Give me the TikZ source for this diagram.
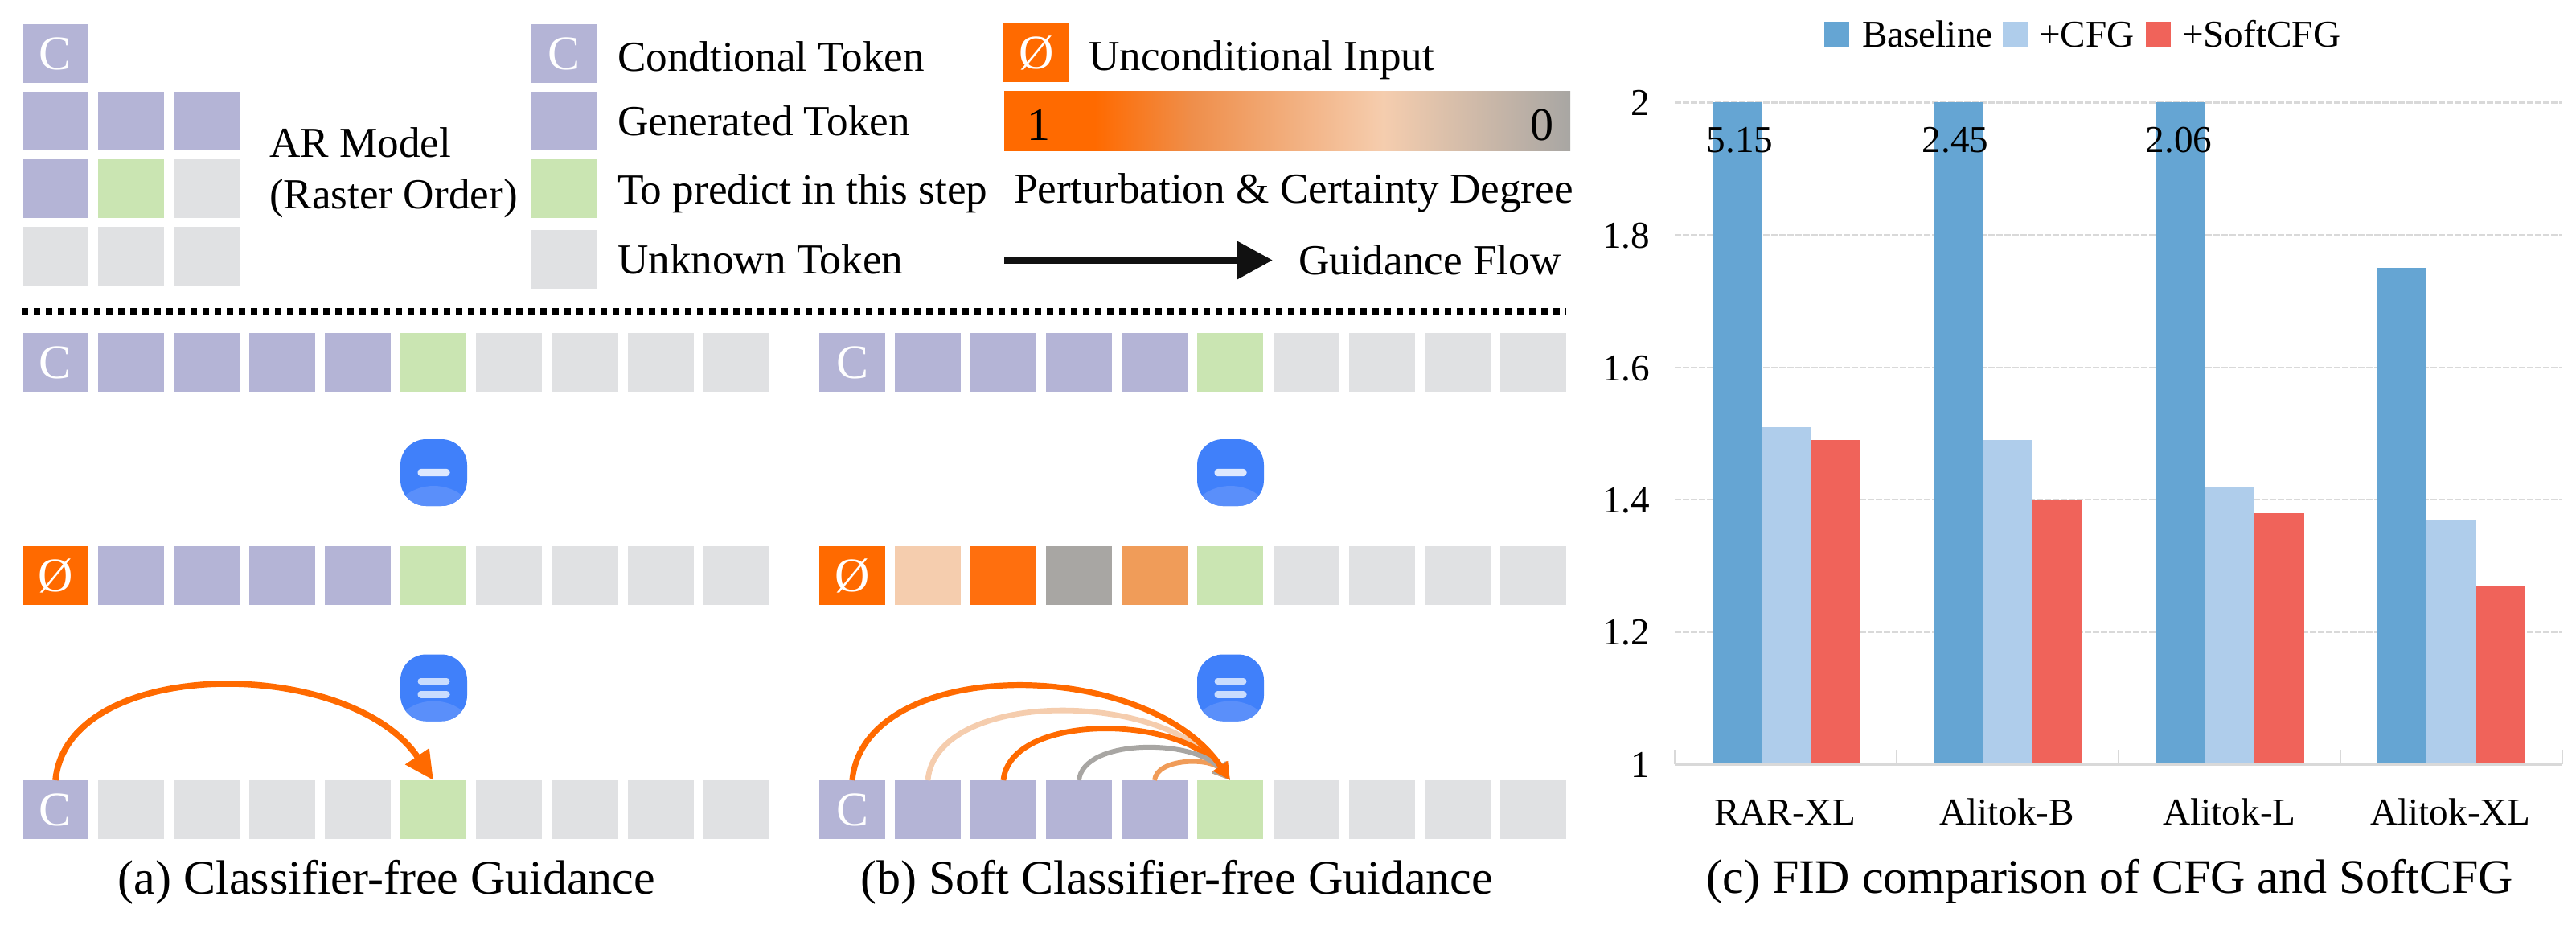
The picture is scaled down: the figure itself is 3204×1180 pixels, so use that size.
\documentclass[tikz,border=0pt]{standalone}
\usepackage{fontspec}
\setmainfont{Liberation Serif}
\usetikzlibrary{arrows.meta}
\definecolor{purp}{HTML}{B4B4D6}
\definecolor{grn}{HTML}{CAE5B2}
\definecolor{unk}{HTML}{E0E1E3}
\definecolor{org}{HTML}{FF6A00}
\definecolor{org2}{HTML}{FF6F0E}
\definecolor{org3}{HTML}{EF8E4A}
\definecolor{pch}{HTML}{F5CDAE}
\definecolor{gry}{HTML}{A8A6A3}
\definecolor{mid}{HTML}{F09C59}
\definecolor{btn}{HTML}{4080FA}
\definecolor{btnl}{HTML}{5A8FFA}
\definecolor{barA}{HTML}{65A5D3}
\definecolor{barB}{HTML}{AFCDEB}
\definecolor{barC}{HTML}{F0635A}
\definecolor{gridc}{HTML}{D9D9D9}
\definecolor{arrk}{HTML}{111111}
\pgfdeclarehorizontalshading{certshade}{100bp}{color(0bp)=(org); color(25bp)=(org); color(33bp)=(org); color(41.5bp)=(org3); color(58.5bp)=(pch); color(75bp)=(gry); color(100bp)=(gry)}
\tikzset{
  x=0.25pt,y=-0.25pt,
  cell/.style={minimum width=20.5pt,minimum height=18.25pt,inner sep=0pt,outer sep=0pt,text=white,font=\fontsize{15pt}{15pt}\selectfont},
  tokC/.style={cell,fill=purp,node contents=C},
  tokN/.style={cell,fill=org,node contents=Ø},
  tokG/.style={cell,fill=purp,node contents={}},
  tokP/.style={cell,fill=grn,node contents={}},
  tokU/.style={cell,fill=unk,node contents={}},
  tokA/.style={cell,fill=pch,node contents={}},
  tokB/.style={cell,fill=org2,node contents={}},
  tokD/.style={cell,fill=gry,node contents={}},
  tokE/.style={cell,fill=mid,node contents={}},
  txt/.style={anchor=base west,inner sep=0pt,outer sep=0pt,font=\fontsize{13.3pt}{16pt}\selectfont},
  captxt/.style={anchor=base,inner sep=0pt,outer sep=0pt,font=\fontsize{15pt}{18pt}\selectfont},
  chart/.style={inner sep=0pt,outer sep=0pt,font=\fontsize{11.8pt}{14pt}\selectfont},
  btnbase/.style={minimum width=20.75pt,minimum height=20.75pt,inner sep=0pt,outer sep=0pt,fill=btn,rounded corners=8pt},
  btnminus/.style={btnbase,path picture={
     \fill[btnl] ([yshift=-6pt]path picture bounding box.south) ellipse (13.5pt and 12.25pt);
     \fill[white!82!btn,rounded corners=1pt] ([xshift=-5pt,yshift=1.15pt]path picture bounding box.center) rectangle ([xshift=5pt,yshift=-1.15pt]path picture bounding box.center);}},
  btnequal/.style={btnbase,path picture={
     \fill[btnl] ([yshift=-6pt]path picture bounding box.south) ellipse (13.5pt and 12.25pt);
     \fill[white!72!btn,rounded corners=1pt] ([xshift=-5pt,yshift=3pt]path picture bounding box.center) rectangle ([xshift=5pt,yshift=1pt]path picture bounding box.center);
     \fill[white!72!btn,rounded corners=1pt] ([xshift=-5pt,yshift=-1pt]path picture bounding box.center) rectangle ([xshift=5pt,yshift=-3.2pt]path picture bounding box.center);}},
  flow/.style={line width=1.5pt,-{Triangle[length=5.4pt,width=5.2pt]}},
  gridl/.style={gridc,line width=0.7pt,dash pattern=on 1.9pt off 0.6pt},
  axisl/.style={gridc,line width=0.9pt},
}
\begin{document}
\begin{tikzpicture}
\useasboundingbox (0,0) rectangle (3204,1180);
% top-left AR model
\node[tokC,name=m0,at={(69,66.5)}];
\foreach \x/\s [count=\i] in {69/tokG,163/tokG,257/tokG}\node[\s,name=m1-\i,at={(\x,150.5)}];
\foreach \x/\s [count=\i] in {69/tokG,163/tokP,257/tokU}\node[\s,name=m2-\i,at={(\x,234.5)}];
\foreach \x/\s [count=\i] in {69/tokU,163/tokU,257/tokU}\node[\s,name=m3-\i,at={(\x,318.5)}];
\node[txt] (t1) at (335,195) {AR Model};
\node[txt] (t2) at (335,259) {(Raster Order)};
% legend
\node[tokC,name=l1,at={(702,66.5)}];
\node[tokG,name=l2,at={(702,150.5)}];
\node[tokP,name=l3,at={(702,234.5)}];
\node[tokU,name=l4,at={(702,322.5)}];
\node[txt] (lt1) at (768,88) {Condtional Token};
\node[txt] (lt2) at (768,168) {Generated Token};
\node[txt] (lt3) at (768,253) {To predict in this step};
\node[txt] (lt4) at (768,340) {Unknown Token};
\node[tokN,name=l5,at={(1289,65.5)}];
\node[txt] (lt5) at (1354,87) {Unconditional Input};
\node[inner sep=0pt,outer sep=0pt,minimum width=176pt,minimum height=18.5pt,shading=certshade,anchor=north west] (grad) at (1249,113) {};
\node[anchor=base,inner sep=0pt,font=\fontsize{14.5pt}{16pt}\selectfont] (g1) at (1292,174) {1};
\node[anchor=base,inner sep=0pt,font=\fontsize{14.5pt}{16pt}\selectfont] (g0) at (1918,174) {0};
\node[txt] (lt6) at (1261,252) {Perturbation \& Certainty Degree};
\coordinate (fa) at (1249,323.5);
\coordinate (fb) at (1583,323.5);
\draw[arrk,line width=2.25pt,-{Triangle[length=11pt,width=11.25pt]}] (fa) -- (fb);
\node[txt] (lt7) at (1615,341) {Guidance Flow};
% dotted rule
\coordinate (da) at (27,387);
\coordinate (db) at (1948,387);
\draw[black,line width=2pt,dash pattern=on 2pt off 1.75pt] (da) -- (db);
% panel a
\foreach \x/\s [count=\i] in {69/tokC,163/tokG,257/tokG,351/tokG,445/tokG,539/tokP,633/tokU,728/tokU,822/tokU,916/tokU}\node[\s,name=a1-\i,at={(\x,450.5)}];
\foreach \x/\s [count=\i] in {69/tokN,163/tokG,257/tokG,351/tokG,445/tokG,539/tokP,633/tokU,728/tokU,822/tokU,916/tokU}\node[\s,name=a2-\i,at={(\x,715.5)}];
\foreach \x/\s [count=\i] in {69/tokC,163/tokU,257/tokU,351/tokU,445/tokU,539/tokP,633/tokU,728/tokU,822/tokU,916/tokU}\node[\s,name=a3-\i,at={(\x,1006.5)}];
\node[btnminus] (am) at (539.5,587.5) {};
\node[btnequal] (ae) at (539.5,855) {};
\draw[org,line width=1.9pt,-{Triangle[length=9pt,width=8.5pt]}] (a3-1.north) .. controls +(15,-155) and +(-105,-155) .. (a3-6.north);
\node[captxt] (ca) at (481,1111) {(a) Classifier-free Guidance};
% panel b
\foreach \x/\s [count=\i] in {1060/tokC,1154/tokG,1248/tokG,1342/tokG,1436/tokG,1530/tokP,1625/tokU,1719/tokU,1813/tokU,1907/tokU}\node[\s,name=b1-\i,at={(\x,450.5)}];
\foreach \x/\s [count=\i] in {1060/tokN,1154/tokA,1248/tokB,1342/tokD,1436/tokE,1530/tokP,1625/tokU,1719/tokU,1813/tokU,1907/tokU}\node[\s,name=b2-\i,at={(\x,715.5)}];
\foreach \x/\s [count=\i] in {1060/tokC,1154/tokG,1248/tokG,1342/tokG,1436/tokG,1530/tokP,1625/tokU,1719/tokU,1813/tokU,1907/tokU}\node[\s,name=b3-\i,at={(\x,1006.5)}];
\node[btnminus] (bm) at (1530.5,587.5) {};
\node[btnequal] (be) at (1530.5,855) {};
\draw[flow,mid] (b3-5.north) .. controls +(3,-28) and +(-25,-28) .. (b3-6.north);
\draw[flow,pch,line width=1.7pt] (b3-2.north) .. controls +(10,-113) and +(-85,-113) .. (b3-6.north);
\draw[flow,org,line width=1.7pt] (b3-3.north) .. controls +(8,-83) and +(-65,-83) .. (b3-6.north);
\draw[flow,gry] (b3-4.north) .. controls +(5,-52) and +(-45,-52) .. (b3-6.north);
\draw[flow,org,line width=1.8pt] (b3-1.north) .. controls +(15,-155) and +(-105,-155) .. (b3-6.north);
\node[captxt] (cb) at (1463.5,1111) {(b) Soft Classifier-free Guidance};
% chart grid
\foreach \y in {127.5,292,457,621,786}{\draw[gridl] (2083,\y) -- (3187,\y);}
\foreach \x in {2083,2359,2635,2911,3187}{\draw[gridc,line width=0.5pt] (\x,932) -- (\x,950);}
\draw[axisl] (2083,950) -- (3187,950);
% bars
\foreach \xa/\xb/\xc/\xd/\ya/\yb/\yc in {2130/2192/2253/2314/127/531/547,2405/2467/2528/2589/127/547/621,2681/2743/2804/2866/127/605/638,2956/3018/3079/3141/333/646/728}{
  \fill[barA] (\xa,\ya) rectangle (\xb,949);
  \fill[barB] (\xb,\yb) rectangle (\xc,949);
  \fill[barC] (\xc,\yc) rectangle (\xd,949);
}
% value labels
\node[chart,anchor=base] (v1) at (2164,189) {5.15};
\node[chart,anchor=base] (v2) at (2432,189) {2.45};
\node[chart,anchor=base] (v3) at (2710,189) {2.06};
% y labels
\node[chart,anchor=base east] (y1) at (2052,143) {2};
\node[chart,anchor=base east] (y2) at (2052,308) {1.8};
\node[chart,anchor=base east] (y3) at (2052,473) {1.6};
\node[chart,anchor=base east] (y4) at (2052,637) {1.4};
\node[chart,anchor=base east] (y5) at (2052,801) {1.2};
\node[chart,anchor=base east] (y6) at (2052,966) {1};
% x labels
\node[chart,anchor=base] (x1) at (2220,1025) {RAR-XL};
\node[chart,anchor=base] (x2) at (2496,1025) {Alitok-B};
\node[chart,anchor=base] (x3) at (2773,1025) {Alitok-L};
\node[chart,anchor=base] (x4) at (3048,1025) {Alitok-XL};
% chart legend
\fill[barA] (2269,27) rectangle (2300,58);
\fill[barB] (2491,27) rectangle (2522,58);
\fill[barC] (2669,27) rectangle (2700,58);
\node[chart,anchor=base west] (k1) at (2316,58) {Baseline};
\node[chart,anchor=base west] (k2) at (2536,58) {+CFG};
\node[chart,anchor=base west] (k3) at (2714,58) {+SoftCFG};
\node[captxt] (cc) at (2624.5,1110) {(c) FID comparison of CFG and SoftCFG};
\end{tikzpicture}
\end{document}
